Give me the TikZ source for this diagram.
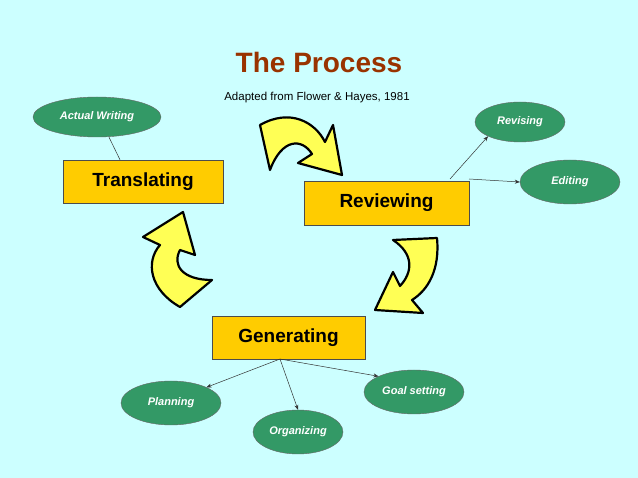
\documentclass[tikz,border=0pt]{standalone}
\usepackage{fontspec}
\setmainfont{Liberation Sans}
\usetikzlibrary{shapes.geometric,arrows.meta}
\definecolor{bg}{HTML}{CCFFFF}
\definecolor{box}{HTML}{FFCC00}
\definecolor{ell}{HTML}{339966}
\definecolor{ttl}{HTML}{993300}
\definecolor{arr}{HTML}{FFFF55}
\begin{document}
\begin{tikzpicture}[x=1pt,y=-1pt,
 stepbox/.style={draw=black!70,fill=box,font=\bfseries\fontsize{19}{22}\selectfont,inner sep=0pt},
 oval/.style={ellipse,fill=ell,draw=black!60,text=white,font=\bfseries\itshape\fontsize{11}{13}\selectfont,inner sep=0pt},
 con/.style={draw=black!80,line width=0.5pt},
 cona/.style={con,-{Stealth[length=5pt,width=4pt]}},
 bigarrow/.style={fill=arr,draw=black,line width=2.2pt,line join=round}]
\fill[bg] (0,0) rectangle (638,478);
\useasboundingbox (0,0) rectangle (638,478);
\node[font=\bfseries\fontsize{28}{32}\selectfont,text=ttl] (title) at (319,62) {The Process};
\node[font=\fontsize{11.5}{13}\selectfont] (sub) at (317,98) {Adapted from Flower \& Hayes, 1981};
\node[stepbox,minimum width=160,minimum height=43] (tr) at (143,181.5) {Translating};
\node[stepbox,minimum width=165,minimum height=44] (rv) at (386.5,203) {Reviewing};
\node[stepbox,minimum width=153,minimum height=43] (gn) at (288.5,337.5) {Generating};
\node[oval,minimum width=128,minimum height=40] (aw) at (97,117) {Actual Writing};
\node[oval,minimum width=90,minimum height=40] (rs) at (520,122) {Revising};
\node[oval,minimum width=100,minimum height=44] (ed) at (570,182) {Editing};
\node[oval,minimum width=100,minimum height=44] (pl) at (171,403) {Planning};
\node[oval,minimum width=90,minimum height=44] (og) at (298,432) {Organizing};
\node[oval,minimum width=100,minimum height=44] (gs) at (414,392) {Goal setting};
\coordinate (rvtr) at (450,179);
\coordinate (rvr) at (469,179);
\coordinate (gnb) at (280,359);
\draw[con] (aw.south) ++(12,0) coordinate (aws) -- (tr.north -| 120,0) coordinate (trn);
\draw[cona] (rvtr) -- (rs.south west);
\draw[cona] (rvr) -- (ed.west);
\draw[cona] (gnb) -- (pl.north east);
\draw[cona] (gnb) -- (og.north);
\draw[cona] (gnb) -- (gs.north west);
\draw[bigarrow] (260,125) .. controls (290,108) and (315,122) .. (325,142) -- (333,125) -- (342,175) -- (298,163) -- (312,154) .. controls (302,138) and (282,138) .. (270,170) -- cycle;
\draw[bigarrow] (437,238) .. controls (440,270) and (428,290) .. (412,300) -- (423,313) -- (375,310) -- (393,272) -- (400,286) .. controls (413,272) and (414,254) .. (393,240) -- cycle;
\draw[bigarrow] (180,307) .. controls (150,290) and (145,262) .. (160,245) -- (143,237) -- (183,212) -- (195,255) -- (180,250) .. controls (172,265) and (182,280) .. (212,280) -- cycle;
\end{tikzpicture}
\end{document}
